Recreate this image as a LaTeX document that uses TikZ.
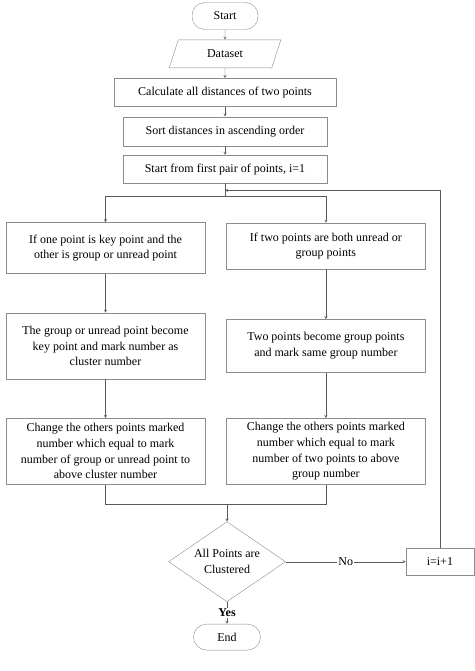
\documentclass[tikz,border=0pt]{standalone}
\usepackage{fontspec}
\setmainfont{Liberation Serif}
\usetikzlibrary{shapes.geometric}
\usetikzlibrary{positioning}
\usetikzlibrary{arrows}
\tikzstyle{terminal} = [rectangle, rounded corners=13pt, draw=black!45,
minimum width=66pt, minimum height=27pt, inner sep=2pt]
\tikzstyle{io} = [trapezium, trapezium left angle=72, trapezium right angle=108,
draw=black!45, minimum width=96pt, minimum height=28pt, inner sep=2pt]
\tikzstyle{process} = [rectangle, draw=black!45, align=center, inner sep=2pt,
minimum width=199pt]
\tikzstyle{decision} = [diamond, draw=black!45, aspect=1.46, inner sep=0pt,
minimum width=117pt, minimum height=80pt, align=center]
\tikzstyle{line} = [draw=black!65]
\tikzstyle{arrow} = [line, ->, >=stealth]

\begin{document}
\begin{tikzpicture}
  [
    x=1pt, y=-1pt,
    font=\fontsize{12}{15.7}\selectfont
    ]

  \useasboundingbox (0,0) rectangle (474,671);

  \node[terminal] (start) at (225,16) {Start};
  \node[io, below=10pt of start] (dataset) {Dataset};
  \node[process, minimum width=222pt, minimum height=28pt, below=10pt of dataset] (distances) {Calculate all distances of two points};
  \node[process, minimum width=204pt, minimum height=29pt, below=10pt of distances] (sort) {Sort distances in ascending order};
  \node[process, minimum width=204pt, minimum height=28pt, below=9pt of sort] (first) {Start from first pair of points, i=1};

  % left branch
  \node[process, minimum height=51pt, below=39pt of first, xshift=-119.5pt] (ifkey) {If one point is key point and the\\other is group or unread point};
  \node[process, minimum height=66pt, below=39pt of ifkey] (becomekey) {The group or unread point become\\key point and mark number as\\cluster number};
  \node[process, minimum height=66pt, below=39pt of becomekey] (changeleft) {Change the others points marked\\number which equal to mark\\number of group or unread point to\\above cluster number};

  % right branch
  \node[process, minimum height=46pt, right=21pt of ifkey, yshift=2pt] (ifboth) {If two points are both unread or\\group points};
  \node[process, minimum height=53pt, right=21pt of becomekey] (becomegroup) {Two points become group points\\and mark same group number};
  \node[process, minimum height=66pt, right=21pt of changeleft] (changeright) {Change the others points marked\\number which equal to mark\\number of two points to above\\group number};

  \node[decision, below=37pt of changeleft, xshift=121.5pt] (clustered) {All Points are\\Clustered};
  \node[process, minimum width=68pt, minimum height=27pt, right=120pt of clustered] (inc) {i=i+1};
  \node[terminal, minimum width=67pt, minimum height=26pt, below=22pt of clustered] (end) {End};

  \coordinate (split) at ([yshift=-13pt]first.south);
  \coordinate (loopin) at ([yshift=-7pt]first.south);
  \coordinate (merge) at ([yshift=17pt]clustered.north);

  \draw[arrow] (start) -- (dataset);
  \draw[arrow] (dataset) -- (distances);
  \draw[arrow] (distances) -- (sort);
  \draw[arrow] (sort) -- (first);
  \draw[line] (first) -- (split);
  \draw[arrow] (split) -| (ifkey);
  \draw[arrow] (split) -| (ifboth);

  \draw[arrow] (ifkey) -- (becomekey);
  \draw[arrow] (becomekey) -- (changeleft);
  \draw[arrow] (ifboth) -- (becomegroup);
  \draw[arrow] (becomegroup) -- (changeright);

  \draw[line] (changeleft) |- (merge);
  \draw[line] (changeright) |- (merge);
  \draw[arrow] (merge) -- (clustered);

  \draw[arrow] (clustered) -- node[fill=white, inner sep=1pt] {No} (inc);
  \draw[arrow] (clustered) -- node[fill=white, inner sep=1pt] {\bfseries Yes} (end);
  \draw[arrow] (inc) |- (loopin);
\end{tikzpicture}
\end{document}
